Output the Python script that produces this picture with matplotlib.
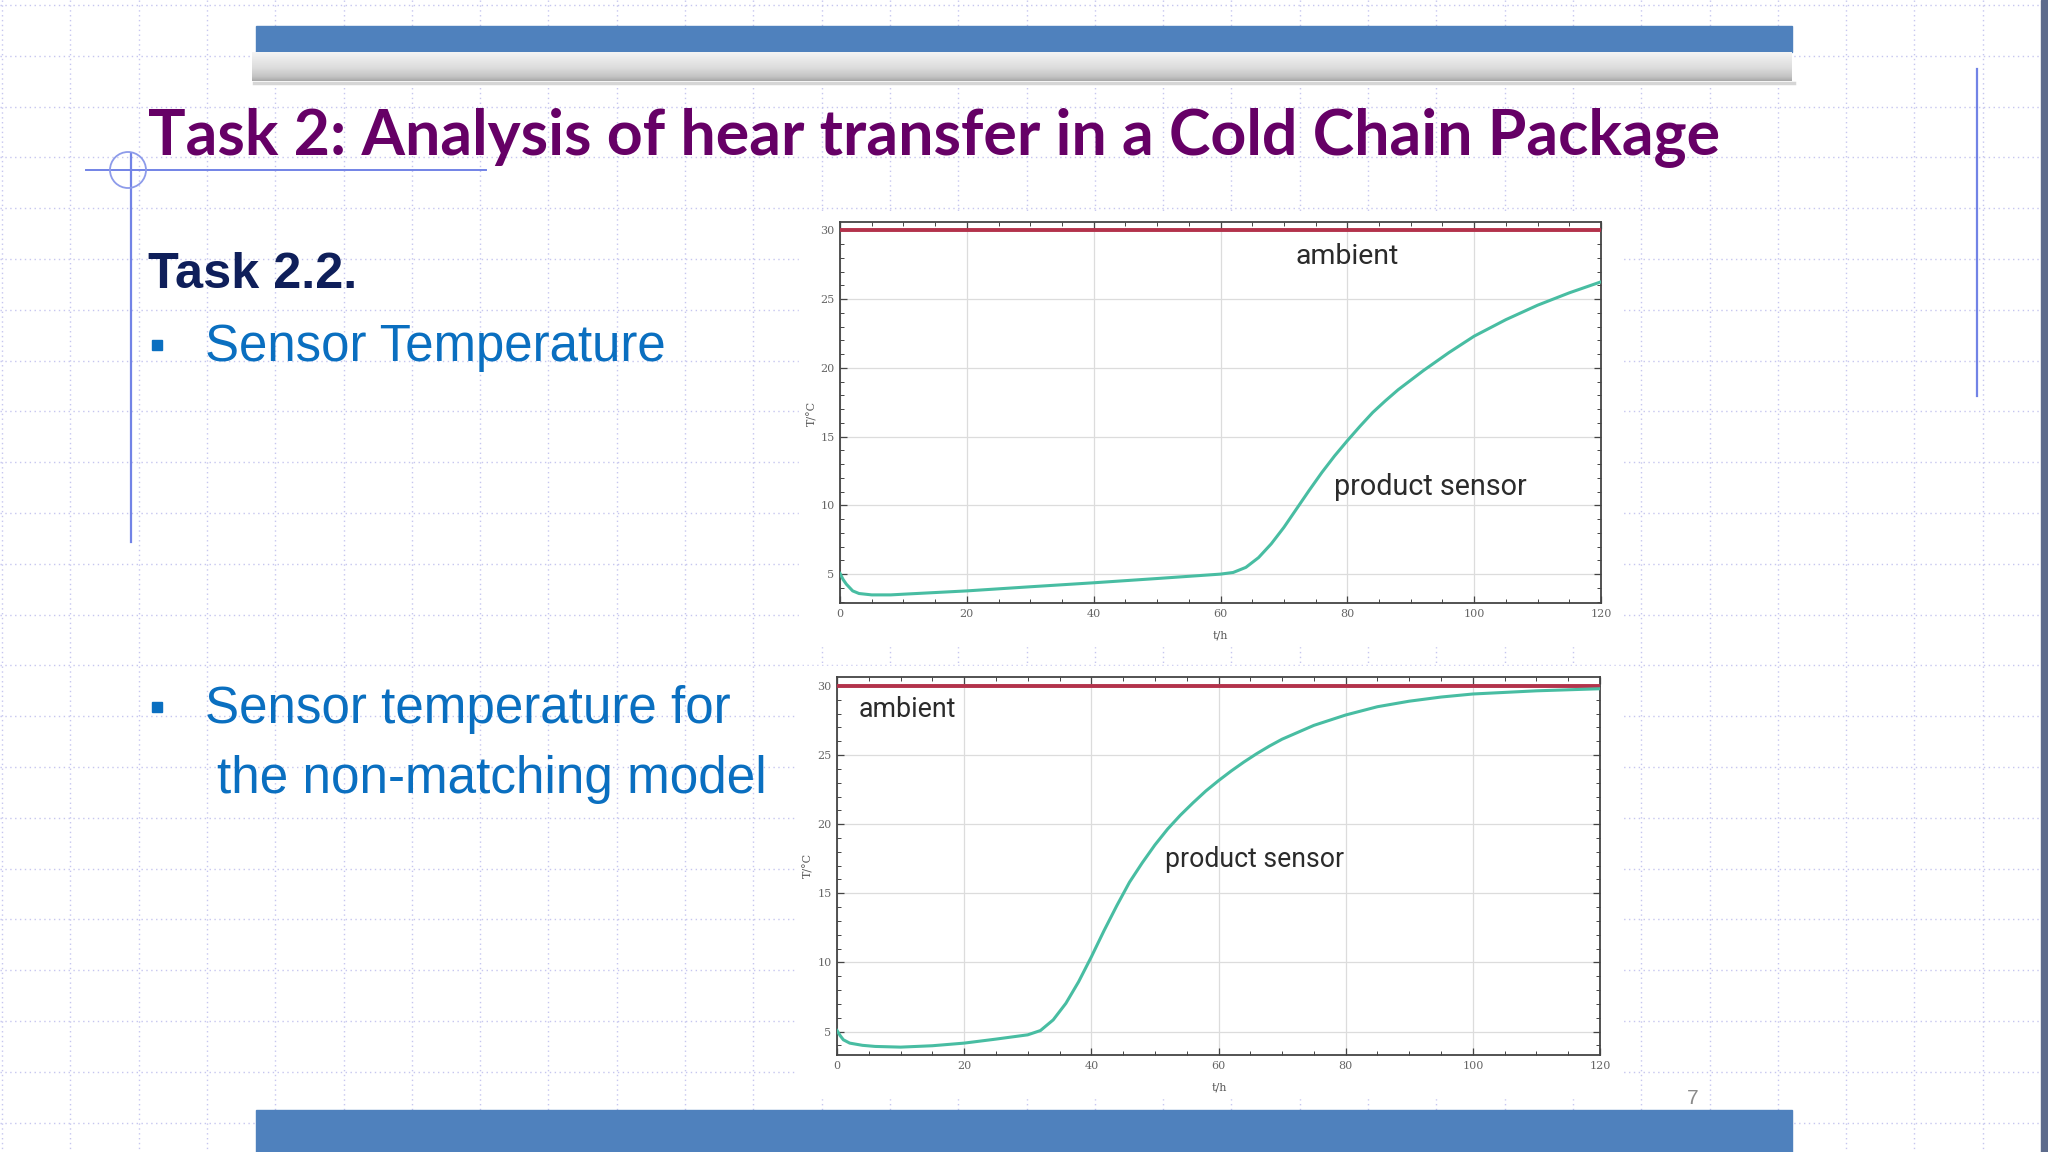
import numpy as np
import matplotlib
matplotlib.use('Agg')
import matplotlib.pyplot as plt
from matplotlib.patches import Rectangle, Circle
from matplotlib.ticker import MultipleLocator
from matplotlib.colors import LinearSegmentedColormap

# values
t_match = [0, 0.5, 1, 2, 3, 5, 8, 10, 20, 30, 40, 50, 60, 62, 64, 66, 68, 70,
           72, 74, 76, 78, 80, 82, 84, 86, 88, 90, 92, 94, 96, 98, 100, 105,
           110, 115, 120]
T_match = [5.05, 4.6, 4.27, 3.78, 3.59, 3.49, 3.49, 3.54, 3.78, 4.08, 4.37, 4.68,
           5.0, 5.12, 5.49, 6.2, 7.2, 8.4, 9.75, 11.1, 12.4, 13.6, 14.7, 15.75,
           16.75, 17.6, 18.4, 19.1, 19.8, 20.45, 21.1, 21.7, 22.3, 23.5,
           24.55, 25.45, 26.25]

t_nonmatch = [0, 0.5, 1, 2, 4, 6, 10, 15, 20, 25, 30, 32, 34, 36, 38, 40, 42, 44,
              46, 48, 50, 52, 54, 56, 58, 60, 62, 64, 66, 68, 70, 75, 80, 85,
              90, 95, 100, 110, 120]
T_nonmatch = [5.07, 4.7, 4.4, 4.16, 4.0, 3.92, 3.87, 3.97, 4.16, 4.45, 4.76, 5.07,
              5.84, 7.04, 8.6, 10.4, 12.3, 14.1, 15.8, 17.2, 18.5, 19.65, 20.65,
              21.55, 22.4, 23.15, 23.85, 24.5, 25.1, 25.65, 26.15, 27.15, 27.9,
              28.5, 28.9, 29.2, 29.42, 29.65, 29.8]

T_ambient = 30
t_range = [0, 120]

title = "Task 2: Analysis of hear transfer in a Cold Chain Package"
subtitle = "Task 2.2."
bullet1 = "Sensor Temperature"
bullet2 = ["Sensor temperature for", "the non-matching model"]

W, H = 2048, 1152
fig = plt.figure(figsize=(W / 100, H / 100), dpi=100)
fig.patch.set_facecolor('white')
renderer = fig.canvas.get_renderer()


def fit_width(txt, target):
    # scale font so the text gets the wanted pixel width
    w = txt.get_window_extent(renderer).width
    txt.set_fontsize(txt.get_fontsize() * target / w)


# slide background, pixel coordinates
bg = fig.add_axes([0, 0, 1, 1])
bg.set_xlim(0, W)
bg.set_ylim(H, 0)
bg.axis('off')

grid_col = '#c6c6ef'
for x in np.arange(2, W, 68.3):
    bg.plot([x, x], [0, H], color=grid_col, lw=1.0, ls=(0, (1, 2.5)), zorder=1)
for y in np.arange(5, H, 50.8):
    bg.plot([0, W], [y, y], color=grid_col, lw=1.0, ls=(0, (1, 2.5)), zorder=1)

# header bars
bg.add_patch(Rectangle((256, 26), 1536, 26, color='#4f81bd', zorder=3))
bar_cmap = LinearSegmentedColormap.from_list(
    'bar', [(0, '#f4f4f4'), (0.55, '#dcdcdc'), (0.85, '#c4c4c4'), (1, '#a9a9a9')])
grad = np.linspace(0, 1, 60).reshape(-1, 1)
bg.imshow(grad, cmap=bar_cmap, aspect='auto', extent=[252, 1792, 81, 52], zorder=3)
bg.plot([254, 1794], [83, 83], color='#d6d6d6', lw=2.5, zorder=2)
bg.set_xlim(0, W)
bg.set_ylim(H, 0)

# footer bar
bg.add_patch(Rectangle((256, 1110), 1536, 42, color='#4f81bd', zorder=3))
# right edge strip
bg.add_patch(Rectangle((2041, 0), 7, H, color='#5d6b8c', zorder=3))

# crosshair decoration
line_col = '#7283e6'
bg.plot([86, 486], [170, 170], color=line_col, lw=1.4, zorder=3)
bg.plot([131, 131], [154, 542], color=line_col, lw=1.6, zorder=3)
bg.add_patch(Circle((128, 170), 18, fill=False, ec='#8d9bea', lw=1.3, zorder=3))
bg.plot([1977, 1977], [69, 396], color=line_col, lw=1.6, zorder=3)

# white backdrops of the pasted plots
bg.add_patch(Rectangle((799, 213), 823, 433, color='white', zorder=2))
bg.add_patch(Rectangle((797, 666), 823, 432, color='white', zorder=2))

# texts
t = bg.text(148, 137, title, fontsize=40, fontweight='bold', family='Lato',
            color='#660066', va='center', ha='left', zorder=4)
fit_width(t, 1572)
t = bg.text(148, 275, subtitle, fontsize=24, fontweight='bold',
            family='Liberation Sans', color='#0f1f5a', va='center', zorder=4)
fit_width(t, 210)

blue = '#0a6fc0'
t = bg.text(205, 347, bullet1, fontsize=24, family='Liberation Sans',
            color=blue, va='center', zorder=4)
fit_width(t, 461)
t = bg.text(205, 709, bullet2[0], fontsize=24, family='Liberation Sans',
            color=blue, va='center', zorder=4)
fit_width(t, 526)
t = bg.text(217, 780, bullet2[1], fontsize=24, family='Liberation Sans',
            color=blue, va='center', zorder=4)
fit_width(t, 550)
for yb in [345, 707]:
    bg.add_patch(Rectangle((152, yb - 5), 10, 10, color=blue, zorder=4))

bg.text(1693, 1098, "7", fontsize=15, color='#8a8a8a', family='Liberation Sans',
        ha='center', va='center', zorder=4)


def sensor_plot(rect, t_vals, T_vals, ylim, amb_xy, prod_xy, amb_w, prod_w):
    ax = fig.add_axes(rect)
    ax.set_facecolor('white')
    ax.plot(t_range, [T_ambient, T_ambient], color='#b3324b', lw=2.8, zorder=3)
    ax.plot(t_vals, T_vals, color='#48bda2', lw=2.2, zorder=3)
    ax.set_xlim(t_range)
    ax.set_ylim(ylim)
    ax.xaxis.set_major_locator(MultipleLocator(20))
    ax.xaxis.set_minor_locator(MultipleLocator(5))
    ax.yaxis.set_major_locator(MultipleLocator(5))
    ax.yaxis.set_minor_locator(MultipleLocator(1))
    ax.grid(True, which='major', color='#dcdcdc', lw=0.9)
    ax.set_axisbelow(True)
    ax.tick_params(which='both', direction='in', top=True, right=True,
                   colors='#444444', labelcolor='#666666', labelsize=8, pad=4)
    ax.tick_params(which='major', length=5, width=0.9)
    ax.tick_params(which='minor', length=3, width=0.7)
    for lab in ax.get_xticklabels() + ax.get_yticklabels():
        lab.set_family('DejaVu Serif')
    ax.set_yticks([5, 10, 15, 20, 25, 30])
    for s in ax.spines.values():
        s.set_color('#444444')
        s.set_linewidth(1.3)
    a = ax.text(amb_xy[0], amb_xy[1], "ambient", family='Roboto', fontsize=20,
                color='#2b2b2b', ha='center', va='center', zorder=4)
    fit_width(a, amb_w)
    p = ax.text(prod_xy[0], prod_xy[1], "product sensor", family='Roboto',
                fontsize=20, color='#2b2b2b', ha='center', va='center', zorder=4)
    fit_width(p, prod_w)
    return ax


ax1 = sensor_plot([840 / W, 1 - 603 / H, 761 / W, 381 / H], t_match, T_match,
                  (2.9, 30.6), (79.9, 28.1), (93.1, 11.3), 103, 192)
ax2 = sensor_plot([837 / W, 1 - 1055 / H, 763 / W, 378 / H], t_nonmatch, T_nonmatch,
                  (3.3, 30.65), (11.1, 28.3), (65.7, 17.45), 97, 178)

lab_kw = dict(fontsize=8, color='#555555', family='DejaVu Serif',
              ha='center', va='center', zorder=5)
bg.text(812, 413, "T/°C", rotation=90, **lab_kw)
bg.text(1220, 635, "t/h", **lab_kw)
bg.text(808, 865, "T/°C", rotation=90, **lab_kw)
bg.text(1219, 1087, "t/h", **lab_kw)

fig.savefig('out.png', dpi=100)
